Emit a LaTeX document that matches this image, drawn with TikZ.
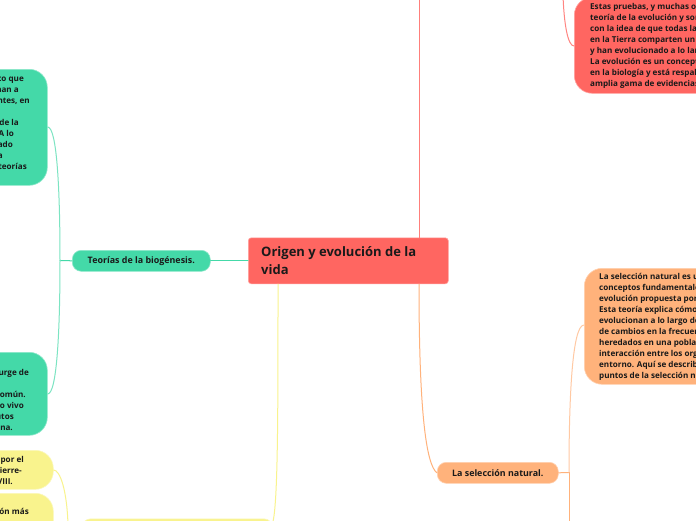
\documentclass[tikz,border=0pt]{standalone}
\usepackage{fontspec}
\setmainfont{Open Sans}
\definecolor{leafgreen}{HTML}{44D9A8}
\definecolor{rootred}{HTML}{FF6661}
\definecolor{linkred}{HTML}{FF7F7B}
\definecolor{leaforange}{HTML}{FFB27B}
\definecolor{leafyellow}{HTML}{F9F38D}
\definecolor{ink}{HTML}{1A1A1A}
\tikzset{
  box/.style={draw=#1!60!white,fill=#1,line width=.6pt,rounded corners=18pt,inner sep=0pt,anchor=north west},
  pill/.style={draw=#1!60!white,fill=#1,line width=.6pt,rounded corners=9pt,inner sep=0pt,anchor=north west,
    text=ink,font=\fontsize{8.9}{11}\selectfont\bfseries,align=center},
  body/.style={text=ink,font=\fontsize{8.1}{11}\selectfont\bfseries,align=left,inner sep=0pt,anchor=north west},
  frag/.style={text=ink,font=\fontsize{8.1}{11}\selectfont\bfseries,inner sep=0pt,anchor=base east},
  link/.style={draw=#1,line width=1pt,line cap=round},
}
\begin{document}
\begin{tikzpicture}[x=1pt,y=-1pt]
\useasboundingbox (0,0) rectangle (696,520);
\clip (0,0) rectangle (696,520);
\fill[white] (0,0) rectangle (696,520);

% free ends of connectors
\coordinate (topR) at (419.5,-5);
\coordinate (topB) at (563,-5);
\coordinate (botO) at (569,525);
\coordinate (leftG) at (60,260.5);
\coordinate (leftO) at (569,472.5);
\coordinate (leftY) at (68,525);

% boxes
\node[box=leafgreen,minimum width=87pt,minimum height=116pt] (g1) at (-40,69) {};
\node[box=leafgreen,minimum width=87pt,minimum height=83pt] (g2) at (-40,352) {};
\node[box=leafyellow,minimum width=93pt,minimum height=39pt] (y1) at (-40,450) {};
\node[box=leafyellow,minimum width=93pt,minimum height=60pt] (y2) at (-40,493) {};
\node[box=rootred,minimum width=180pt,minimum height=96pt] (r1) at (574,-3) {};
\node[box=leaforange,minimum width=180pt,minimum height=116pt] (o1) at (584,268) {};

% hubs
\node[draw=rootred!60!white,fill=rootred,line width=.6pt,rounded corners=3pt,inner sep=0pt,anchor=north west,minimum width=200pt,minimum height=46pt] (root) at (248,237.5) {};
\node[text=ink,font=\fontsize{13}{18}\selectfont\bfseries,align=left,inner sep=0pt,anchor=north west] (rootT) at (261,246) {Origen y evolución de la\\vida};
\node[pill=leafgreen,minimum width=138pt,minimum height=21pt] (teo) at (72,250) {Teorías de la biogénesis.};
\node[pill=leaforange,minimum width=121pt,minimum height=21pt] (sel) at (437,462) {La selección natural.};
\node[draw=leafyellow!60!white,fill=leafyellow,line width=.6pt,rounded corners=9pt,inner sep=0pt,anchor=north west,minimum width=191pt,minimum height=30pt] (ybar) at (81.5,518.5) {};

% connectors
\draw[link=leafgreen] (root.west) -- (teo.east);
\draw[link=leafgreen] (teo.west) -- (leftG);
\draw[link=leafgreen!70!white] (leftG) .. controls (60,190) and (57,127) .. (g1.east |- 0,127);
\draw[link=leafgreen!70!white] (leftG) .. controls (60,330) and (57,394) .. (g2.east |- 0,394);
\draw[link=linkred,line width=1.5pt] (root.north -| topR) -- (topR);
\draw[link=rootred!80!white] (topB) .. controls (564,25) and (568,46) .. (r1.west |- 0,46);
\draw[link=leaforange] (root.south -| 419,0) .. controls (419,410) and (426,465) .. (sel.west);
\draw[link=leaforange] (sel.east) -- (leftO);
\draw[link=leaforange!70!white] (leftO) .. controls (569,400) and (572,325) .. (o1.west |- 0,325);
\draw[link=leaforange] (leftO) -- (botO);
\draw[link=leafyellow] (root.south -| 278,0) .. controls (278,420) and (278,510) .. (272,525);
\draw[link=leafyellow] (y1.east |- 0,470) .. controls (60,470) and (67,490) .. (leftY);

% text of the boxes running off the right edge
\node[body] (r1T) at (590,3) {Estas pruebas, y muchas ot\\teoría de la evolución y son\\con la idea de que todas las\\en la Tierra comparten un a\\y han evolucionado a lo larg\\La evolución es un concepto\\en la biología y está respalda\\amplia gama de evidencias.};
\node[body] (o1T) at (599,273) {La selección natural es uno\\conceptos fundamentales\\evolución propuesta por\\Esta teoría explica cómo\\evolucionan a lo largo de\\de cambios en la frecuenc\\heredados en una poblac\\interacción entre los org\\entorno. Aquí se describ\\puntos de la selección na};

% visible ends of the lines of the boxes running off the left edge
\foreach \t/\x/\y [count=\i] in {co que/24/81,nan a/19/92,{ntes, en}/30/103,de la/19/125,A lo/14/136,ado/13/147,a/3/158,teorías/27/169,
  urge de/29/375,omún./26/397,lo vivo/24/408,utos/14/419,rna./13/430,
  por el/24/462,ierre-/22/473,VIII./13/484,ón más/29/514}
  \node[frag] (line\i) at (\x,\y) {\t};
\end{tikzpicture}
\end{document}
